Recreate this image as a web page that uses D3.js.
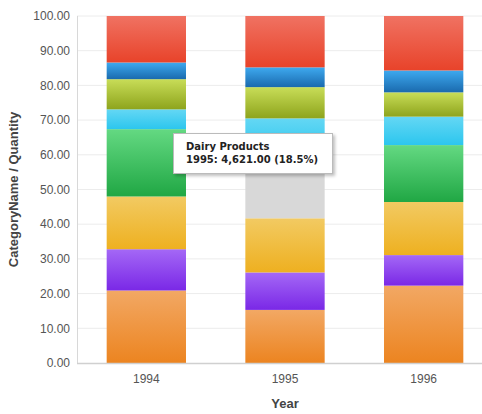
<!DOCTYPE html>
<html>
<head>
<meta charset="utf-8">
<script src="https://cdn.jsdelivr.net/npm/d3@7"></script>
<style>
  body { margin: 0; background: #fff; }
  #chart { position: relative; width: 482px; height: 414px; overflow: hidden; }
  .tip {
    position: absolute;
    background: #fff;
    border: 1px solid #bbb;
    box-shadow: 2px 2px 3px rgba(0,0,0,0.25);
    font-family: "DejaVu Sans", Verdana, sans-serif;
    font-size: 10px;
    font-weight: bold;
    color: #222;
    padding: 6px 14px 7px 12px;
    line-height: 13px;
    white-space: nowrap;
  }
</style>
</head>
<body>
<div id="chart"></div>
<script>
const years = ["1994", "1995", "1996"];
const categories = ["Beverages", "Condiments", "Confections", "Dairy Products",
    "Grains/Cereals", "Meat/Poultry", "Produce", "Seafood"];
const quantity1994 = [2002, 1140, 1456, 1859, 546, 834, 460, 1284];
const quantity1995 = [3822, 2698, 3897, 4621, 2573, 2248, 1424, 3697];
const quantity1996 = [3623, 1430, 2486, 2665, 1332, 1137, 1024, 2551];
const yTicks = [0, 10, 20, 30, 40, 50, 60, 70, 80, 90, 100];
const hovered = { year: "1995", category: "Dairy Products" };

// gradient stops top -> bottom, one pair per category
const colorTop = ["#f2a864", "#a468f6", "#f2ca62", "#64d982", "#64d7f4", "#c8dd58", "#3ea9ef", "#f07262"];
const colorBottom = ["#ec8420", "#7a28e6", "#eeb020", "#20a744", "#2cc6ee", "#8ea41c", "#1a6aae", "#e8432a"];

const width = 482, height = 414;
const margin = { left: 77, top: 16, bottom: 51 };

const rows = years.map((y, i) => {
    const vals = [quantity1994, quantity1995, quantity1996][i];
    const row = { year: y };
    categories.forEach((c, j) => row[c] = vals[j]);
    return row;
});

const series = d3.stack().keys(categories).offset(d3.stackOffsetExpand)(rows);

const x = d3.scaleBand().domain(years)
    .range([margin.left, margin.left + 416])
    .paddingInner(0.428).paddingOuter(0.214);
const y = d3.scaleLinear().domain([0, 100]).range([height - margin.bottom, margin.top]);

const svg = d3.select("#chart").append("svg")
    .attr("width", width).attr("height", height);

const defs = svg.append("defs");
categories.forEach((c, i) => {
    const g = defs.append("linearGradient").attr("id", "g" + i)
        .attr("x1", 0).attr("y1", 0).attr("x2", 0).attr("y2", 1);
    g.append("stop").attr("offset", "0%").attr("stop-color", colorTop[i]);
    g.append("stop").attr("offset", "100%").attr("stop-color", colorBottom[i]);
});

// grid
svg.append("g").selectAll("line").data(yTicks.slice(1)).enter().append("line")
    .attr("x1", margin.left).attr("x2", width)
    .attr("y1", d => y(d)).attr("y2", d => y(d))
    .attr("stroke", "#ececec").attr("stroke-width", 1);

// bars
svg.append("g").selectAll("g").data(series).enter().append("g")
    .each(function (s, i) {
        d3.select(this).selectAll("rect").data(s).enter().append("rect")
            .attr("x", d => x(d.data.year))
            .attr("width", x.bandwidth())
            .attr("y", d => y(d[1] * 100))
            .attr("height", d => y(d[0] * 100) - y(d[1] * 100))
            .attr("fill", d => (d.data.year === hovered.year && s.key === hovered.category) ? "#d8d8d8" : `url(#g${i})`);
    });

// axes lines
svg.append("line").attr("x1", margin.left + 0.5).attr("x2", margin.left + 0.5)
    .attr("y1", y(100)).attr("y2", y(0)).attr("stroke", "#d8d8d8");
svg.append("line").attr("x1", margin.left).attr("x2", width)
    .attr("y1", y(0) + 0.5).attr("y2", y(0) + 0.5).attr("stroke", "#d0d0d0").attr("stroke-width", 1.5);

// y tick labels
svg.append("g").selectAll("text").data(yTicks).enter().append("text")
    .attr("x", 70).attr("y", d => y(d)).attr("dy", "0.35em")
    .attr("text-anchor", "end")
    .attr("font-family", "Arial, 'Liberation Sans', sans-serif")
    .attr("font-size", 12).attr("fill", "#555")
    .text(d => d3.format(".2f")(d));

// x tick labels
svg.append("g").selectAll("text").data(years).enter().append("text")
    .attr("x", d => x(d) + x.bandwidth() / 2).attr("y", y(0) + 20)
    .attr("text-anchor", "middle")
    .attr("font-family", "Arial, 'Liberation Sans', sans-serif")
    .attr("font-size", 12).attr("fill", "#555")
    .text(d => d);

// axis titles
svg.append("text")
    .attr("x", 285).attr("y", 408)
    .attr("text-anchor", "middle")
    .attr("font-family", "Arial, 'Liberation Sans', sans-serif")
    .attr("font-size", 13).attr("font-weight", "bold").attr("fill", "#444")
    .text("Year");
svg.append("text")
    .attr("transform", `translate(18, ${(y(0) + y(100)) / 2}) rotate(-90)`)
    .attr("text-anchor", "middle")
    .attr("font-family", "Arial, 'Liberation Sans', sans-serif")
    .attr("font-size", 13).attr("font-weight", "bold").attr("fill", "#444")
    .text("CategoryName / Quantity");

// tooltip for the highlighted segment
const hi = categories.indexOf(hovered.category);
const hy = years.indexOf(hovered.year);
const hv = [quantity1994, quantity1995, quantity1996][hy][hi];
const share = series[hi][hy][1] - series[hi][hy][0];
d3.select("#chart").append("div").attr("class", "tip")
    .style("left", "173px").style("top", "133px")
    .html(`${hovered.category}<br>${hovered.year}: ${d3.format(",.2f")(hv)} (${d3.format(".1%")(share)})`);
</script>
</body>
</html>
